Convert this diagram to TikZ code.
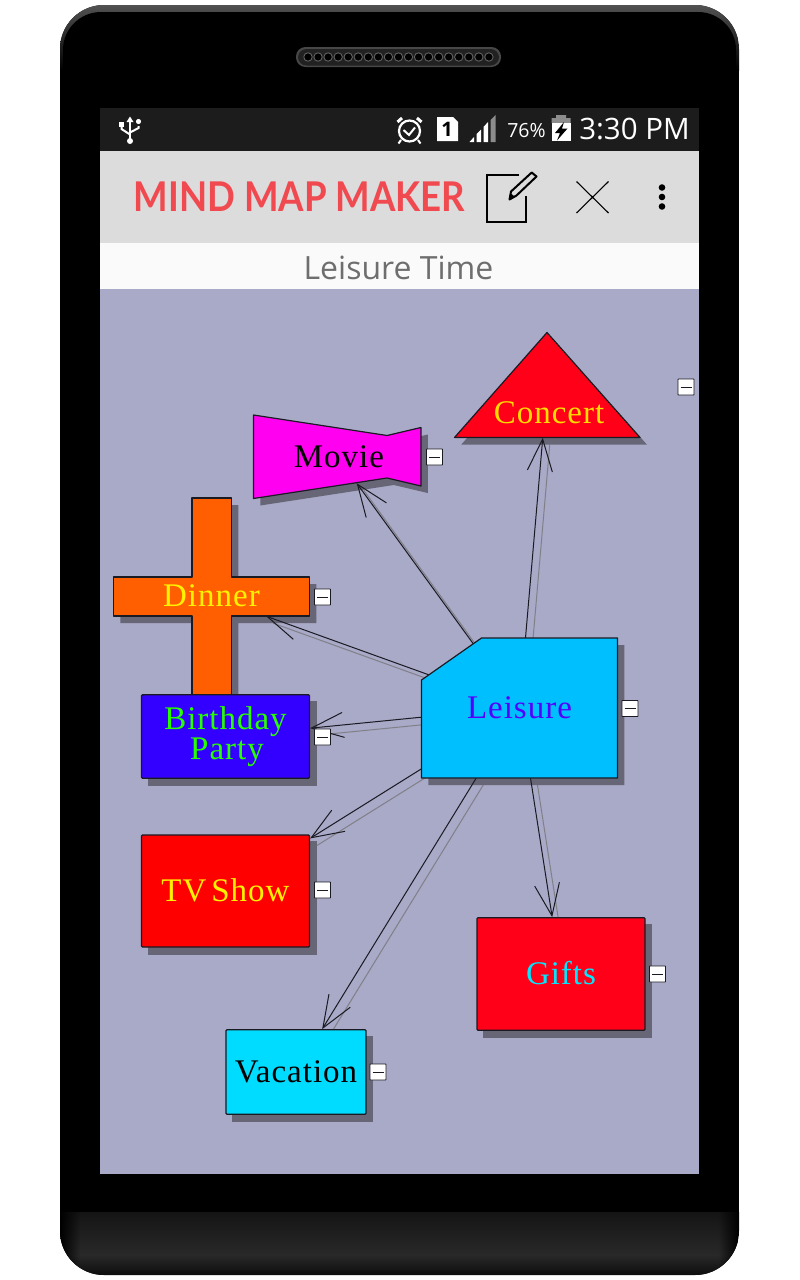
\documentclass[tikz,border=0pt]{standalone}
\usepackage{fontspec}
\setmainfont{Liberation Serif}[LetterSpace=3]
\newfontfamily\titlefont{Lato}
\newfontfamily\appfont{Open Sans}
\usepackage{xcolor}
\definecolor{mcanvas}{HTML}{A9A9C8}
\definecolor{mshadow}{HTML}{666677}
\definecolor{mline}{HTML}{1A1A22}
\definecolor{mgrey}{HTML}{808088}
\definecolor{mtitle}{HTML}{F04A50}
\definecolor{mbar}{HTML}{DCDCDC}
\definecolor{mstatus}{HTML}{1C1C1C}
\definecolor{mred}{HTML}{FF0018}
\definecolor{mblue}{HTML}{00BFFF}
\definecolor{mcyan}{HTML}{00DCFF}
\definecolor{morange}{HTML}{FF5F00}
\definecolor{mpurple}{HTML}{FF00F0}
\definecolor{mindigo}{HTML}{3300FF}
\definecolor{mviolet}{HTML}{5500FF}
\definecolor{mgold}{HTML}{FFDD00}
\definecolor{maqua}{HTML}{00E8FF}
\usetikzlibrary{arrows.meta,fadings}
\pgfdeclarelayer{back}
\pgfdeclarelayer{slines}
\pgfdeclarelayer{shades}
\pgfdeclarelayer{links}
\pgfsetlayers{back,slines,shades,links,main}
\def\moviepath{(253.5,415) -- (387,435.5) -- (421,427.5) -- (421,486) -- (387,478) -- (253.5,498.5) -- cycle}
\def\concertpath{(547,332.5) -- (640,437.5) -- (454.5,437.5) -- cycle}
\def\dinnerpath{(192,498) -- (231.5,498) -- (231.5,577) -- (309.5,577) -- (309.5,616) -- (231.5,616) -- (231.5,695) -- (192,695) -- (192,616) -- (113.5,616) -- (113.5,577) -- (192,577) -- cycle}
\def\leisurepath{(421.5,680) -- (481.5,638) -- (617.5,638) -- (617.5,778) -- (421.5,778) -- cycle}
\begin{document}
\begin{tikzpicture}[x=1pt,y=-1pt,
    mapshape/.style={draw=mline,line width=1.2pt,line join=round},
    mapshade/.style={fill=mshadow,shift={(6.8,7)}},
    mapbox/.style={draw=mline,line width=1.2pt,rounded corners=1pt,inner sep=0pt,align=center,font=\fontsize{33}{29}\selectfont},
    maptext/.style={inner sep=0pt,align=center,font=\fontsize{33}{29}\selectfont},
    maplink/.style={draw=mline,line width=1pt,-{Straight Barb[length=32pt,width=25pt]}},
    mapghost/.style={draw=mgrey,line width=1pt,transform canvas={xshift=7pt,yshift=-7pt}},
    minusbox/.style={draw=mline,fill=white,line width=0.9pt,rounded corners=0.5pt,minimum size=16pt,inner sep=0pt,
      path picture={\draw[line width=1pt,mline] ([xshift=-5.5pt]path picture bounding box.center) -- ([xshift=5.5pt]path picture bounding box.center);}},
    statustext/.style={inner sep=0pt,text=white,font=\appfont}]

  \useasboundingbox (0,0) rectangle (800,1280);

  % phone body
  \begin{pgfonlayer}{back}
    \fill[white] (0,0) rectangle (800,1280);
    \begin{scope}
      \clip[rounded corners=44] (60,5) rectangle (739,1275);
      \fill[black] (60,5) rectangle (739,1275);
      \shade[top color=black!68!white,bottom color=black] (60,5) rectangle (739,70);
      \fill[black,rounded corners=38] (63,12) rectangle (736,300);
      \shade[top color=black!92!white,bottom color=black!84!white] (60,1212) rectangle (739,1255);
      \shade[top color=black!84!white,bottom color=black!95!white] (60,1255) rectangle (739,1275);
      \fill[black,path fading=east] (60,1212) rectangle (80,1275);
      \fill[black,path fading=west] (719,1212) rectangle (739,1275);
    \end{scope}
    % speaker
    \fill[black!72!white,rounded corners=9.5] (296,47) rectangle (501,67);
    \fill[black!87!white,rounded corners=8.5] (298,49) rectangle (499,65.5);
    \foreach \i in {0,...,18}
      \draw[black!62!white,fill=black,line width=0.9pt] (308+\i*10.05,57) circle (4.2);

    % screen
    \fill[mstatus] (100,108) rectangle (699,151);
    \fill[mbar] (100,151) rectangle (699,243);
    \fill[white!98!black] (100,243) rectangle (699,289);
    \fill[mcanvas] (100,289) rectangle (699,1174);
  \end{pgfonlayer}

  % status bar
  \draw[white,line width=2pt] (130,120) -- (130,140);
  \fill[white] (130,116.5) -- (133.5,122) -- (126.5,122) -- cycle;
  \fill[white] (130,141) circle (3);
  \draw[white,line width=2pt] (121.5,126) -- (121.5,129) -- (130,134.5);
  \draw[white,line width=2pt] (138.5,126) -- (138.5,128) -- (130,132.5);
  \fill[white] (119,122) rectangle (124,126.5);
  \fill[white] (138.5,121.5) circle (2.6);
  \draw[white,line width=2.2pt] (409.5,131) circle (10.5);
  \draw[white,line width=2pt] (403.5,130) -- (409,135) -- (415,127.5);
  \draw[white,line width=3pt] (397.5,122) -- (402,118);
  \draw[white,line width=3pt] (421.5,122) -- (417,118);
  \draw[white,line width=2pt] (401,140) -- (398.5,143.5);
  \draw[white,line width=2pt] (418,140) -- (420.5,143.5);
  \fill[white] (437,117) -- (453,117) -- (458,122) -- (458,141) -- (437,141) -- cycle;
  \node[inner sep=0pt,text=black,font=\appfont\bfseries\fontsize{20}{20}\selectfont] (simcard) at (447,129.5) {1};
  \fill[white] (469.5,142) -- (474,137) -- (474,142) -- cycle;
  \fill[white] (476.5,142) -- (476.5,134) -- (481,129.5) -- (481,142) -- cycle;
  \fill[white] (483.5,142) -- (483.5,127) -- (488,122) -- (488,142) -- cycle;
  \fill[black!45!white] (490.5,142) -- (490.5,120) -- (495.5,115) -- (495.5,142) -- cycle;
  \node[statustext,font=\appfont\fontsize{19.5}{19}\selectfont] (battlevel) at (526.5,130.5) {76\%};
  \fill[black!45!white] (556,115) rectangle (566,119) (551.5,118) rectangle (570.5,123);
  \fill[white] (551.5,123) rectangle (570.5,141);
  \fill[black] (564,122) -- (555,133) -- (560,133) -- (557,140.5) -- (567.5,128.5) -- (562,128.5) -- cycle;
  \node[statustext,font=\appfont\fontsize{29.5}{30}\selectfont] (clock) at (634.5,129) {3:30 PM};

  % action bar
  \node[inner sep=0pt,text=mtitle,font=\titlefont\bfseries\fontsize{41}{41}\selectfont] (apptitle) at (299.5,197) {\scalebox{0.893}[1]{MIND MAP MAKER}};
  \draw[black,line width=2.2pt] (519,175) -- (487,175) -- (487,222) -- (526,222) -- (526,196);
  \draw[black,fill=mbar,line width=2pt,line join=round] (509.5,199.5) -- (511,191.5) -- (531.7,172.5) -- (536.5,176.5) -- (516.5,195.5) -- cycle;
  \fill[black] (509.5,199.5) -- (510.5,193) -- (515,197) -- cycle;
  \draw[black,line width=1.1pt] (576.5,181.5) -- (608.5,213) (608.5,181.5) -- (576.5,213);
  \foreach \i in {187.5,197,206.5}
    \fill[black] (662,\i) circle (3.3);
  \node[inner sep=0pt,text=black!57!white,font=\appfont\fontsize{32}{32}\selectfont] (maptitle) at (398.5,267.5) {Leisure Time};

  % shapes with their own outline
  \fill[mred,mapshape] \concertpath;
  \fill[mpurple,mapshape] \moviepath;
  \fill[morange,mapshape] \dinnerpath;
  \fill[mblue,mapshape] \leisurepath;

  \node[minimum width=187pt,minimum height=105pt] (concert) at (547.3,385) {};
  \node[maptext,text=mgold] (concertlabel) at (549,413) {Concert};
  \node[maptext,minimum width=168pt,minimum height=52.6pt,text=black] (movie) at (337.5,456.7) {\hspace{3pt}Movie};
  \node[maptext,minimum width=196pt,minimum height=39pt,text=yellow] (dinner) at (211.5,596.5) {\raisebox{1.5pt}{Dinner}};
  \node[maptext,text=mviolet] (leisure) at (519.5,707.5) {Leisure};

  \node[mapbox,fill=mindigo,minimum width=168pt,minimum height=83.5pt,text=green!85!yellow] (birthday) at (225.5,736.5) {\raisebox{-1.5pt}{Birthday}\\\raisebox{-2pt}{\hspace{3pt}Party}};
  \node[mapbox,fill=red,minimum width=168pt,minimum height=112pt,text=yellow] (tvshow) at (225.5,891) {\raisebox{2pt}{\spaceskip=5pt TV Show}};
  \node[mapbox,fill=mred,minimum width=168pt,minimum height=112.5pt,text=maqua] (gifts) at (561,974) {\raisebox{2pt}{Gifts}};
  \node[mapbox,fill=mcyan,minimum width=140pt,minimum height=84.5pt,text=black] (vacation) at (296,1072) {Vacation};

  \node[minusbox] (concertminus) at (686,387) {};
  \node[minusbox] (movieminus) at (434.5,457) {};
  \node[minusbox] (dinnerminus) at (322.5,597) {};
  \node[minusbox] (birthdayminus) at (322.5,737) {};
  \node[minusbox] (leisureminus) at (630,708.5) {};
  \node[minusbox] (tvshowminus) at (322.5,890) {};
  \node[minusbox] (giftsminus) at (657.5,974) {};
  \node[minusbox] (vacationminus) at (378,1072) {};

  % connectors and drop shadows under the shapes
  \begin{pgfonlayer}{slines}
    \foreach \n in {concert,movie,dinner,birthday,tvshow,gifts,vacation}
      \draw[mapghost] (leisure) -- (\n);
  \end{pgfonlayer}
  \begin{pgfonlayer}{shades}
    \fill[mapshade] \concertpath;
    \fill[mapshade] \moviepath;
    \fill[mapshade] \dinnerpath;
    \fill[mapshade] \leisurepath;
    \foreach \n in {birthday,tvshow,gifts,vacation}
      \fill[mshadow] ([shift={(6.8,7)}]\n.north west) rectangle ([shift={(6.8,7)}]\n.south east);
  \end{pgfonlayer}
  \begin{pgfonlayer}{links}
    \foreach \n in {concert,movie,dinner,birthday,tvshow,gifts,vacation}
      \draw[maplink] (leisure) -- (\n);
  \end{pgfonlayer}

\end{tikzpicture}
\end{document}
